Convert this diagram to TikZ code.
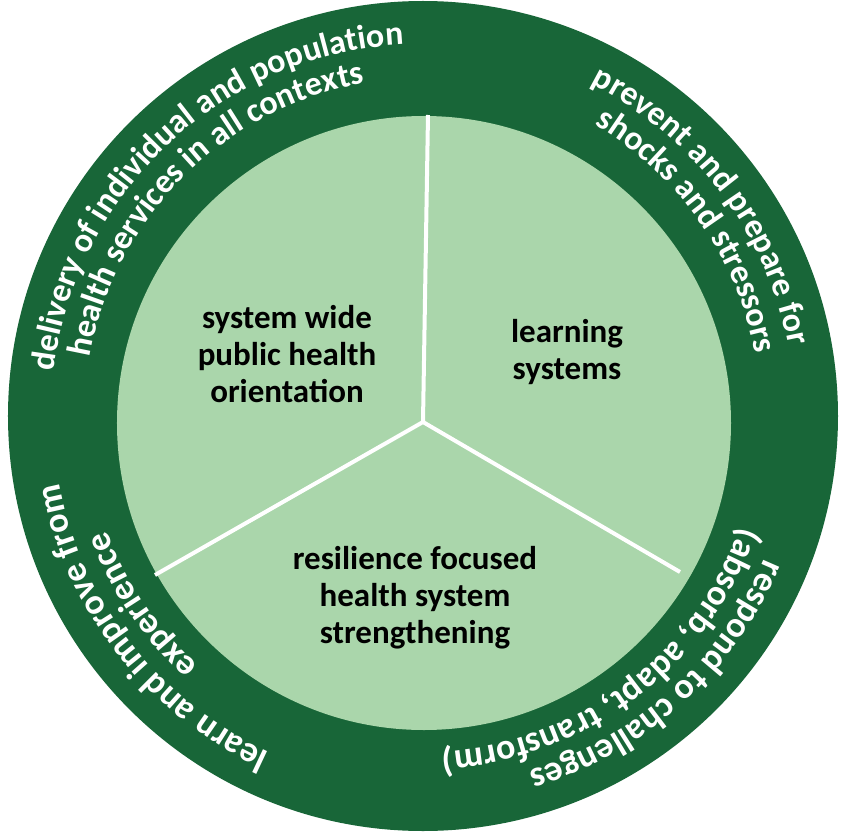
\documentclass[tikz,border=0pt]{standalone}
\usepackage{fontspec}
\setmainfont{Carlito}
\usetikzlibrary{decorations.text}
\definecolor{dkg}{RGB}{24,102,56}
\definecolor{ltg}{RGB}{170,214,171}
\newcommand{\ringfont}{\fontsize{34}{34}\selectfont\bfseries\color{white}}
\newcommand{\ringfontb}{\fontsize{36}{36}\selectfont\bfseries\color{white}}
\tikzset{
  ringtext/.style={decorate,decoration={text along path,text align=center,text={#1}}},
  label/.style={font=\fontsize{33}{37}\selectfont\bfseries,align=center,text=black}
}
\begin{document}
\begin{tikzpicture}[x=1pt,y=1pt]
\useasboundingbox (-423,-417) rectangle (428,416);
\fill[dkg] (0,0) circle[radius=415];
\fill[ltg] (1,-7) circle[radius=307];
\coordinate (c) at (0,-6);
\coordinate (u) at (5,301);
\coordinate (l) at (-268,-159);
\coordinate (r) at (257,-156);
\draw[white,line width=4pt] (c)--(u) (c)--(l) (c)--(r);
\node[label] (n1) at (-136,62) {system wide\\public health\\orientation};
\node[label] (n2) at (144,64) {learning\\systems};
\node[label] (n3) at (-8,-182) {resilience focused\\health system\\strengthening};
% ring texts (clockwise arcs, tops outward)
\path[ringtext={|\ringfont|delivery of individual and population}] (205:372) arc[start angle=205,end angle=61,radius=372];
\path[ringtext={|\ringfont|health services in all contexts}] (205:338) arc[start angle=205,end angle=65,radius=338];
\path[ringtext={|\ringfont|prevent and prepare for}] (100:372) arc[start angle=100,end angle=-26,radius=372];
\path[ringtext={|\ringfont|shocks and stressors}] (100:338) arc[start angle=100,end angle=-30,radius=338];
\path[ringtext={|\ringfontb|respond to challenges}] (15:370) arc[start angle=15,end angle=-111,radius=370];
\path[ringtext={|\ringfontb|(absorb{,} adapt{,} transform)}] (19:336) arc[start angle=19,end angle=-125,radius=336];
\path[ringtext={|\ringfontb|learn and improve from}] (-80:370) arc[start angle=-80,end angle=-204,radius=370];
\path[ringtext={|\ringfontb|experience}] (-80:336) arc[start angle=-80,end angle=-212,radius=336];
\end{tikzpicture}
\end{document}
